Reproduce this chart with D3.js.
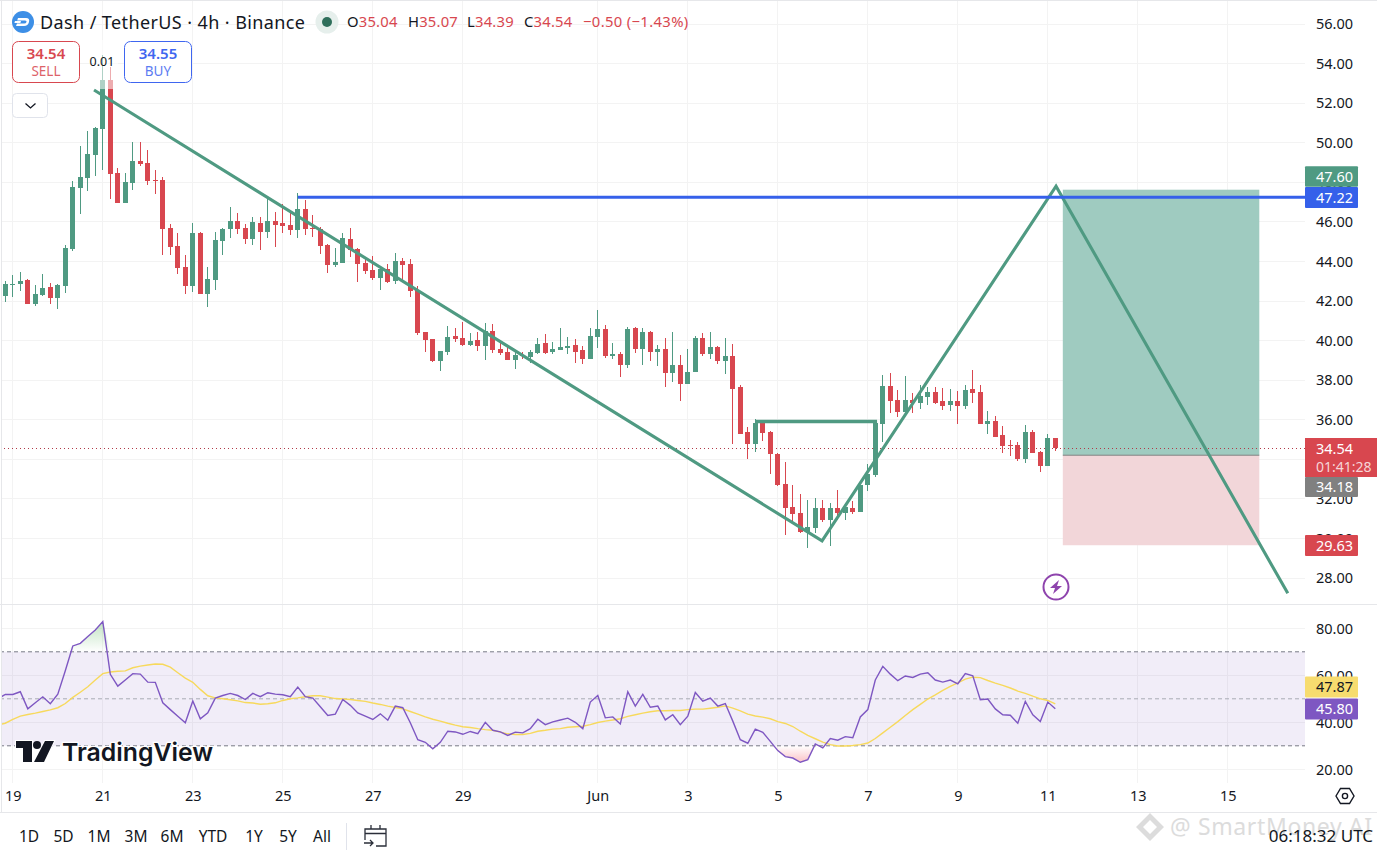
<!DOCTYPE html>
<html>
<head>
<meta charset="utf-8">
<title>Dash / TetherUS</title>
<script src="https://cdn.jsdelivr.net/npm/d3@7"></script>
<style>
  html, body { margin: 0; padding: 0; background: #fff; overflow: hidden; }
  svg { display: block; font-family: "Noto Sans", sans-serif; }
  .domain { display: none; }
</style>
</head>
<body>
<svg width="1377" height="852"></svg>
<script>
// candles, 4h
const opens = [42.24,42.81,42.84,43.05,41.83,42.29,42.69,42.14,42.74,44.61,47.69,48.20,49.36,50.67,53.15,48.45,46.93,47.94,49.05,48.96,48.10,48.10,45.67,44.76,43.70,42.74,45.42,42.34,43.05,45.02,45.62,46.03,45.67,45.12,45.92,45.47,46.03,45.92,45.82,45.57,46.63,45.67,45.62,44.81,43.80,43.90,45.12,44.61,
  43.90,43.55,43.15,43.60,42.99,44.00,43.85,42.54,40.42,40.07,38.95,39.41,40.22,40.12,39.76,40.01,39.71,40.47,39.56,39.41,39.00,39.26,39.16,39.36,39.86,39.41,39.51,39.61,39.76,
  39.51,39.06,40.17,40.57,39.21,39.31,38.75,40.62,39.56,40.42,39.41,39.56,38.35,38.75,37.79,38.40,40.12,39.31,39.66,38.96,39.21,37.64,35.37,34.76,35.82,35.37,34.26,32.74,31.58,31.28,30.32,30.52,31.53,30.92,31.53,31.28,31.53,31.33,32.69,33.20,
  35.77,37.69,36.98,36.38,36.98,36.83,37.14,37.39,36.93,36.73,36.93,36.68,37.54,37.39,35.77,35.93,35.22,34.71,34.71,34.01,35.37,34.36,33.65,35.04];
const highs = [43.00,43.30,43.45,43.08,42.79,43.35,42.89,42.84,44.81,48.05,49.81,50.57,50.77,54.41,53.82,48.70,48.45,50.02,50.02,49.61,48.60,48.25,45.87,45.42,44.31,45.92,45.47,43.70,45.47,45.67,46.73,46.43,45.87,46.23,46.23,47.19,46.48,46.88,46.43,47.44,47.09,46.33,45.72,44.86,44.66,45.42,45.67,44.66,
  44.14,44.26,43.65,43.85,44.41,44.16,44.11,42.74,40.42,40.07,39.46,40.72,40.62,40.92,40.37,40.42,40.87,40.82,39.91,39.76,39.46,39.41,39.51,40.12,40.32,39.91,40.62,40.17,40.07,
  39.71,40.62,41.53,40.77,39.86,39.41,40.67,40.67,40.62,40.47,39.76,40.12,40.42,39.26,39.56,40.22,40.37,40.42,39.71,40.12,39.81,37.74,35.62,36.03,35.93,35.42,34.31,33.85,32.69,32.24,31.93,32.04,31.93,31.78,32.44,31.63,31.88,32.69,33.75,35.82,
  38.25,38.35,37.49,38.20,37.34,37.74,37.64,37.64,37.59,37.54,37.44,37.74,38.50,37.74,36.43,36.18,35.67,34.97,34.86,35.72,35.47,34.41,35.27,35.07];
const lows = [41.90,42.20,42.49,41.83,41.73,42.24,41.83,41.58,42.39,44.51,46.38,47.54,48.30,48.60,47.14,46.93,46.93,47.59,48.80,47.84,47.39,44.31,44.31,43.35,42.34,42.44,42.34,41.68,42.54,44.31,45.17,45.37,44.86,44.81,44.56,45.17,44.71,45.42,45.32,45.17,45.32,45.22,44.36,43.40,43.70,43.90,44.21,42.95,
  43.35,43.05,42.54,42.89,42.84,43.05,42.19,40.27,39.41,38.90,38.45,39.26,39.91,39.71,39.71,39.46,39.00,39.36,39.26,39.00,38.55,39.05,38.85,39.31,39.31,39.31,39.51,39.31,38.85,
  38.80,39.06,39.61,39.11,39.06,38.15,38.60,39.36,38.75,38.96,38.70,37.64,37.89,36.94,37.79,38.40,39.21,39.06,38.80,38.30,34.76,35.27,34.01,34.36,34.92,33.25,32.64,30.17,30.82,30.27,29.51,30.27,30.82,29.61,30.92,30.92,31.23,31.33,32.39,33.10,
  34.87,36.33,36.13,36.38,36.33,36.53,36.73,36.78,36.48,36.43,35.77,36.53,36.83,35.77,35.27,35.12,34.31,34.16,33.91,33.80,34.31,33.35,33.65,34.39];
const closes = [42.84,42.84,43.00,41.83,42.34,42.64,42.14,42.79,44.66,47.74,48.25,49.41,50.72,53.15,48.40,46.93,47.99,49.05,48.90,48.05,48.06,45.62,44.71,43.65,42.74,45.42,42.34,43.10,45.07,45.62,46.03,45.62,45.12,45.97,45.47,46.03,45.82,45.77,45.57,46.63,45.62,45.64,44.76,43.80,43.95,45.17,44.56,43.85,
  43.50,43.15,43.60,42.94,44.00,43.80,42.49,40.37,40.02,38.95,39.46,40.17,40.07,39.76,39.96,39.71,40.47,39.51,39.36,39.00,39.26,39.22,39.41,39.81,39.36,39.56,39.66,39.71,39.41,
  39.06,40.22,40.57,39.21,39.31,38.75,40.57,39.56,40.42,39.41,39.56,38.35,38.75,37.79,38.40,40.12,39.31,39.66,38.96,39.21,37.54,35.27,34.76,35.82,35.32,34.26,32.69,31.53,31.23,30.32,30.57,31.53,30.92,31.53,31.28,31.58,31.33,32.69,33.25,35.82,
  37.69,36.93,36.38,36.98,36.83,37.19,37.39,36.83,36.68,36.93,36.68,37.49,37.34,35.77,35.93,35.12,34.66,34.66,34.01,35.37,34.31,33.65,35.07,34.54];

// RSI pane, first value belongs to the bar just left of the picture
const rsiValues = [50.0,51.85,51.85,53.0,45.7,48.3,50.85,47.9,52.0,61.95,72.5,73.6,76.5,79.3,82.9,60.4,55.4,58.0,60.7,60.5,57.1,57.0,48.3,45.4,42.6,39.8,49.1,41.5,44.0,50.3,51.4,52.3,51.4,49.7,52.3,50.9,52.6,52.0,51.7,50.9,55.0,50.9,50.3,46.6,42.9,43.5,49.7,47.2,44.0,42.6,41.2,43.6,40.9,46.9,46.2,39.8,32.6,31.5,28.7,31.5,36.2,35.9,34.9,36.1,35.2,40.0,36.6,35.9,34.4,35.8,35.5,37.3,41.3,
  39.0,40.2,41.0,41.75,40.0,37.3,48.6,51.4,41.9,42.3,39.3,53.0,46.9,51.85,46.4,46.9,41.0,43.2,39.0,42.6,52.7,49.0,50.3,46.9,48.0,40.5,32.6,31.1,37.1,35.7,31.9,27.95,25.4,24.8,23.0,24.1,30.8,29.1,33.1,32.4,33.9,33.4,42.3,45.4,58.0,63.8,60.5,57.7,59.7,59.1,60.5,61.1,58.0,57.1,58.0,56.4,60.7,59.8,49.6,49.9,45.7,43.2,43.0,39.6,48.9,43.2,40.3,48.6,45.80];
const rsiMa = [38.9,39.6,41.2,42.6,43.3,43.9,44.6,45.3,46.2,48.0,50.6,52.8,55.1,58.0,60.7,61.4,61.7,61.9,63.2,63.9,64.4,64.8,64.7,63.5,61.1,58.8,57.0,54.0,51.3,50.4,50.0,49.6,49.1,48.4,48.2,47.7,47.9,48.3,49.3,50.0,50.4,50.9,51.3,51.3,50.7,50.1,49.9,49.7,49.3,48.9,48.2,47.6,46.9,46.3,45.7,44.6,43.5,42.3,41.3,40.5,39.6,38.8,38.1,37.8,37.3,36.9,36.6,35.8,35.1,34.8,34.8,35.3,36.2,
  36.6,37.1,37.3,37.9,38.1,38.3,39.0,39.9,40.5,41.0,41.5,42.5,43.2,43.9,44.5,44.9,44.9,45.0,45.0,45.4,45.6,45.6,46.0,46.4,47.0,46.0,44.9,43.5,42.7,42.2,41.5,40.3,39.5,38.2,36.2,34.4,33.0,31.6,30.5,29.9,29.9,30.1,30.5,31.2,33.1,35.5,37.9,40.3,42.9,45.4,47.6,49.9,51.7,53.6,55.3,56.8,58.4,59.2,59.0,57.8,56.7,55.7,54.6,53.3,52.3,51.1,50.0,49.3,47.87];

const priceTicks = [56,54,52,50,48,46,44,42,40,38,36,34,32,30,28];
const rsiTicks = [80,60,40,20];
const dayLabels = ['19','21','23','25','27','29','Jun','3','5','7','9','11','13','15'];
const dayBars = [1,13,25,37,49,61,79,91,103,115,127,139,151,163];
const rangeButtons = ['1D','5D','1M','3M','6M','YTD','1Y','5Y','All'];
const rangeButtonX = [29,63.5,99,136,172,213,254,288,322];

// drawn lines, [bar, price]
const zigzag = [[11.83,52.64],[108.9,29.85],[140.1,47.78],[171,27.2]];
const boxLine = [[100,35.88],[116,35.88],[116,34.9]];
const blueLevel = 47.22, blueStart = 39;
const tradeBars = [141,167.2], tradeTarget = 47.60, tradeEntry = 34.18, tradeStop = 29.63;
const lastPrice = 34.54;

const upColor = '#4f9a82', downColor = '#d8474f', lineGreen = '#4f9a82', textColor = '#131722', blueColor = '#3560ea';
const gridColor = '#f3f3f3';
const rightEdge = 1305;

const svg = d3.select('svg');
const x = d3.scaleLinear().domain([0,1]).range([5.3,12.8]);
const y = d3.scaleLinear().domain([28,56]).range([577.5,23.5]);
const yRsi = d3.scaleLinear().domain([20,80]).range([769.3,628.3]);

const defs = svg.append('defs');
defs.append('clipPath').attr('id','mainClip').append('rect').attr('x',2).attr('y',0).attr('width',rightEdge-2).attr('height',604);
defs.append('clipPath').attr('id','rsiClip').append('rect').attr('x',2).attr('y',605).attr('width',rightEdge-2).attr('height',178);
const obGrad = defs.append('linearGradient').attr('id','obGrad').attr('x1',0).attr('x2',0).attr('y1',0).attr('y2',1);
obGrad.append('stop').attr('offset','0%').attr('stop-color','#4caf50').attr('stop-opacity',0.35);
obGrad.append('stop').attr('offset','100%').attr('stop-color','#4caf50').attr('stop-opacity',0);
const osGrad = defs.append('linearGradient').attr('id','osGrad').attr('x1',0).attr('x2',0).attr('y1',0).attr('y2',1);
osGrad.append('stop').attr('offset','0%').attr('stop-color','#f23645').attr('stop-opacity',0);
osGrad.append('stop').attr('offset','100%').attr('stop-color','#f23645').attr('stop-opacity',0.3);

// grid
const grid = svg.append('g').attr('shape-rendering','crispEdges');
grid.selectAll('.h').data(priceTicks).join('line')
  .attr('x1',2).attr('x2',rightEdge).attr('y1',d=>Math.round(y(d))).attr('y2',d=>Math.round(y(d))).attr('stroke',gridColor);
grid.selectAll('.hr').data(rsiTicks).join('line')
  .attr('x1',2).attr('x2',rightEdge).attr('y1',d=>Math.round(yRsi(d))).attr('y2',d=>Math.round(yRsi(d))).attr('stroke',gridColor);
dayBars.forEach(b => {
  grid.append('line').attr('x1',Math.floor(x(b))).attr('x2',Math.floor(x(b))).attr('y1',0).attr('y2',604).attr('stroke',gridColor);
  grid.append('line').attr('x1',Math.floor(x(b))).attr('x2',Math.floor(x(b))).attr('y1',605).attr('y2',783).attr('stroke',gridColor);
});
grid.append('line').attr('x1',0).attr('x2',1377).attr('y1',604.5).attr('y2',604.5).attr('stroke','#e6e7ea');
grid.append('line').attr('x1',0).attr('x2',1377).attr('y1',812.5).attr('y2',812.5).attr('stroke','#e6e7ea');
grid.append('line').attr('x1',1).attr('x2',1).attr('y1',0).attr('y2',812).attr('stroke','#e6e7ea');
grid.append('line').attr('x1',0).attr('x2',1377).attr('y1',0.5).attr('y2',0.5).attr('stroke','#e6e7ea');

// long position box
const main = svg.append('g').attr('clip-path','url(#mainClip)');
main.append('rect').attr('x',x(tradeBars[0])).attr('width',x(tradeBars[1])-x(tradeBars[0]))
  .attr('y',y(tradeTarget)).attr('height',y(tradeEntry)-y(tradeTarget)).attr('fill','#9fcbc0');
main.append('rect').attr('x',x(tradeBars[0])).attr('width',x(tradeBars[1])-x(tradeBars[0]))
  .attr('y',y(tradeEntry)).attr('height',y(tradeStop)-y(tradeEntry)).attr('fill','#f2d6d9');
main.append('line').attr('x1',x(tradeBars[0])).attr('x2',x(tradeBars[1])).attr('y1',y(tradeEntry)).attr('y2',y(tradeEntry))
  .attr('stroke','#808080').attr('stroke-width',1);

// last price line
main.append('line').attr('x1',0).attr('x2',rightEdge).attr('y1',448.5).attr('y2',448.5)
  .attr('stroke','#b03a48').attr('stroke-dasharray','1 3').attr('shape-rendering','crispEdges');

// candles
const bars = d3.range(opens.length);
const candles = main.append('g').attr('shape-rendering','crispEdges');
candles.selectAll('.wick').data(bars).join('rect')
  .attr('x',i=>Math.floor(x(i))).attr('width',1)
  .attr('y',i=>y(highs[i])).attr('height',i=>y(lows[i])-y(highs[i]))
  .attr('fill',i=>closes[i]>=opens[i]?upColor:downColor);
candles.selectAll('.body').data(bars).join('rect')
  .attr('x',i=>Math.floor(x(i))-2).attr('width',5)
  .attr('y',i=>y(Math.max(opens[i],closes[i])))
  .attr('height',i=>Math.max(1,Math.abs(y(opens[i])-y(closes[i]))))
  .attr('fill',i=>closes[i]>=opens[i]?upColor:downColor);

// fade under the legend
main.append('rect').attr('x',96).attr('y',40).attr('width',22).attr('height',49).attr('fill','#fff').attr('opacity',0.55);

// drawings
const drawLine = d3.line().x(d=>x(d[0])).y(d=>y(d[1]));
main.append('path').attr('d',drawLine(zigzag)).attr('fill','none').attr('stroke',lineGreen).attr('stroke-width',3.1);
main.append('path').attr('d',drawLine(boxLine)).attr('fill','none').attr('stroke',lineGreen).attr('stroke-width',3.5);
main.append('line').attr('x1',x(blueStart)).attr('x2',rightEdge).attr('y1',y(blueLevel)).attr('y2',y(blueLevel))
  .attr('stroke',blueColor).attr('stroke-width',3);

// lightning badge
const bolt = svg.append('g').attr('transform','translate(1056,587)');
bolt.append('circle').attr('r',12.5).attr('fill','#fff').attr('stroke','#8e44ad').attr('stroke-width',2);
bolt.append('path').attr('d','M3,-7 L-6,1 L-1,1 L-3,7 L6,-1 L1,-1 Z').attr('fill','#8e44ad');

// RSI pane
const rsiPane = svg.append('g').attr('clip-path','url(#rsiClip)');
rsiPane.append('rect').attr('x',0).attr('width',rightEdge).attr('y',yRsi(70)).attr('height',yRsi(30)-yRsi(70))
  .attr('fill','#7e57c2').attr('opacity',0.11);
[[70,'#787b86'],[50,'#a9acb4'],[30,'#787b86']].forEach(([lvl,col]) => {
  rsiPane.append('line').attr('x1',0).attr('x2',rightEdge).attr('y1',yRsi(lvl)).attr('y2',yRsi(lvl))
    .attr('stroke',col).attr('stroke-dasharray','4 3').attr('stroke-width',1);
});
const rsiX = (d,i) => x(i-1);
rsiPane.append('path').datum(rsiValues)
  .attr('d',d3.area().x(rsiX).y0(yRsi(70)).y1(d=>yRsi(Math.max(d,70)))).attr('fill','url(#obGrad)');
rsiPane.append('path').datum(rsiValues)
  .attr('d',d3.area().x(rsiX).y0(yRsi(30)).y1(d=>yRsi(Math.min(d,30)))).attr('fill','url(#osGrad)');
rsiPane.append('path').datum(rsiMa).attr('d',d3.line().x(rsiX).y(d=>yRsi(d)))
  .attr('fill','none').attr('stroke','#f7d95c').attr('stroke-width',1.4);
rsiPane.append('path').datum(rsiValues).attr('d',d3.line().x(rsiX).y(d=>yRsi(d)))
  .attr('fill','none').attr('stroke','#7e57c2').attr('stroke-width',1.4);

// tradingview mark
const tv = svg.append('g');
tv.append('path').attr('d','M16,741 H32 V762 H23 V748 H16 Z M45,741 H54 L44,762 H34 Z').attr('fill','#131722')
  .attr('stroke','#fff').attr('stroke-width',2).attr('paint-order','stroke');
tv.append('circle').attr('cx',37).attr('cy',745).attr('r',4).attr('fill','#131722');
tv.append('text').attr('x',62).attr('y',761).text('TradingView')
  .attr('font-family','Inter').attr('font-weight',600).attr('font-size',24.8).attr('fill','#131722')
  .attr('stroke','#fff').attr('stroke-width',2.5).attr('paint-order','stroke');

// price axis
const axisFont = (sel) => sel.selectAll('text').attr('font-size',14.5).attr('fill',textColor).attr('font-family','"Noto Sans"');
svg.append('g').attr('transform',`translate(1316,0.5)`)
  .call(d3.axisRight(y).tickValues(priceTicks).tickFormat(d3.format('.2f')).tickSize(0).tickPadding(0))
  .call(axisFont);
svg.append('g').attr('transform',`translate(1316,0.5)`)
  .call(d3.axisRight(yRsi).tickValues(rsiTicks).tickFormat(d3.format('.2f')).tickSize(0).tickPadding(0))
  .call(axisFont);

// time axis
const timeAxis = d3.axisBottom(d3.scaleOrdinal().domain(dayLabels).range(dayBars.map(b=>x(b)))).tickSize(0).tickPadding(0);
svg.append('g').attr('transform','translate(0,791)').call(timeAxis).call(axisFont);

// price tags
function tag(yMid, h, wid, fill, label, color) {
  svg.append('rect').attr('x',rightEdge).attr('y',yMid-h/2).attr('width',wid).attr('height',h).attr('fill',fill).attr('rx',1);
  svg.append('text').attr('x',1316).attr('y',yMid).attr('dy','0.35em').attr('font-size',14.5).attr('fill',color).text(label);
}
tag(176.5,20.5,53,'#4f9a82','47.60','#fff');
tag(197.5,21,53,blueColor,'47.22','#fff');
svg.append('rect').attr('x',rightEdge).attr('y',438).attr('width',72).attr('height',39).attr('fill',downColor);
svg.append('text').attr('x',1316).attr('y',449).attr('dy','0.35em').attr('font-size',14.5).attr('fill','#fff').text('34.54');
svg.append('text').attr('x',1316).attr('y',467).attr('dy','0.35em').attr('font-size',14).attr('fill','#f6d5d7').text('01:41:28');
tag(487,20,53,'#808080','34.18','#fff');
tag(545.5,21,53,downColor,'29.63','#fff');
tag(687,21,53,'#f7dc6f','47.87',textColor);
tag(709,21,53,'#7e57c2','45.80','#fff');

// legend
const logo = svg.append('g').attr('transform','translate(23,22)');
logo.append('circle').attr('r',11).attr('fill','#3d8fe6');
logo.append('path').attr('d','M-5,-4 H3 Q7,-4 6,0 Q5,4 1,4 H-7 L-6,1.5 H1 Q3,1.5 3.5,0 Q4,-1.5 2,-1.5 H-5.8 Z M-8,-1 H-2 L-2.6,1 H-8.6 Z').attr('fill','#fff');
svg.append('text').attr('x',40).attr('y',28.5).attr('font-size',18).attr('fill',textColor).attr('textLength',265).text('Dash / TetherUS · 4h · Binance');
svg.append('circle').attr('cx',327).attr('cy',22).attr('r',11.5).attr('fill','#e6efec');
svg.append('circle').attr('cx',327).attr('cy',22).attr('r',5).attr('fill','#2f6f5b');

const ohlcNames = ['O','H','L','C'], ohlcVals = ['35.04','35.07','34.39','34.54'], ohlcX = [347,408,467,524];
ohlcNames.forEach((n,i) => {
  const t = svg.append('text').attr('x',ohlcX[i]).attr('y',27).attr('font-size',14.8).attr('fill',textColor).attr('letter-spacing',0.2);
  t.append('tspan').text(n);
  t.append('tspan').attr('fill',downColor).text(ohlcVals[i]);
});
svg.append('text').attr('x',583).attr('y',27).attr('font-size',14.8).attr('fill',downColor).attr('letter-spacing',0.35).text('−0.50 (−1.43%)');

function tradeBox(x0, col, price, label) {
  svg.append('rect').attr('x',x0+0.5).attr('y',41.5).attr('width',67).attr('height',41).attr('rx',6).attr('fill','#fff').attr('stroke',col);
  svg.append('text').attr('x',x0+34).attr('y',59).attr('text-anchor','middle').attr('font-size',15).attr('font-weight',600).attr('fill',col).text(price);
  svg.append('text').attr('x',x0+34).attr('y',76).attr('text-anchor','middle').attr('font-size',13.5).attr('fill',col).attr('opacity',0.85).text(label);
}
tradeBox(12,'#d8474f','34.54','SELL');
tradeBox(124,'#3f66f0','34.55','BUY');
svg.append('text').attr('x',102).attr('y',66).attr('text-anchor','middle').attr('font-size',12.5).attr('fill',textColor).text('0.01');
svg.append('rect').attr('x',12.5).attr('y',93.5).attr('width',35).attr('height',24).attr('rx',4).attr('fill','#fff').attr('stroke','#e0e3eb');
svg.append('path').attr('d','M25.5,103.5 L30.5,108 L35.5,103.5').attr('fill','none').attr('stroke',textColor).attr('stroke-width',1.3);

// settings hexagon
const gear = svg.append('g').attr('transform','translate(1345,796)').attr('fill','none').attr('stroke',textColor).attr('stroke-width',1.4);
gear.append('path').attr('d','M-9,0 L-4.5,-7.5 H4.5 L9,0 L4.5,7.5 H-4.5 Z');
gear.append('circle').attr('r',2.6);

// bottom bar
svg.append('g').selectAll('text').data(rangeButtons).join('text')
  .attr('x',(d,i)=>rangeButtonX[i]).attr('y',842).attr('text-anchor','middle').attr('font-size',15.5).attr('fill',textColor).text(d=>d);
svg.append('line').attr('x1',346.5).attr('x2',346.5).attr('y1',823).attr('y2',850).attr('stroke','#e0e3eb');
const cal = svg.append('g').attr('fill','none').attr('stroke','#2a2e39').attr('stroke-width',1.3);
cal.append('path').attr('d','M365,840 V829 H386 V846 H376 M365,833.5 H386 M371,825 V829 M380,825 V829 M364,843 H373 M370,840 L373,843 L370,846');

// watermark
const wm = svg.append('g').attr('fill','#dcdcdc');
wm.append('path').attr('d','M1150,813 L1164,827 L1150,841 L1136,827 Z M1150,820 L1143,827 L1150,834 L1157,827 Z').attr('fill-rule','evenodd');
wm.append('text').attr('x',1170).attr('y',835).attr('font-size',23).attr('textLength',202).text('@ SmartMoney AI');
svg.append('text').attr('x',1373).attr('y',842).attr('text-anchor','end').attr('font-size',17).attr('fill',textColor).text('06:18:32 UTC');
</script>
</body>
</html>
